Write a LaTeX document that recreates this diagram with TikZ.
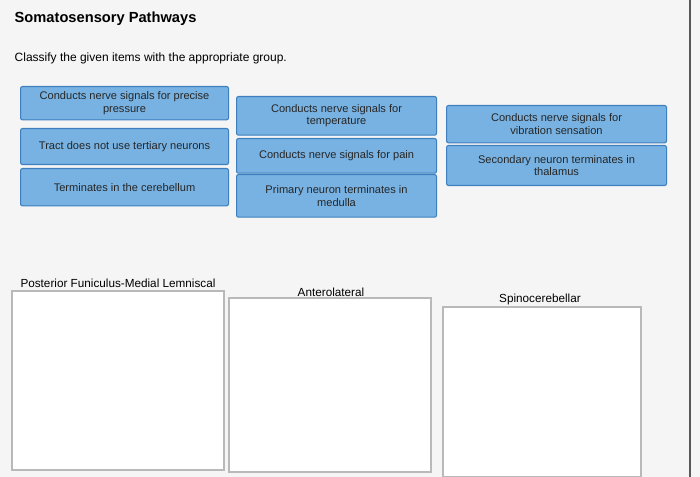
\documentclass[tikz,border=0pt]{standalone}
\usepackage{fontspec}
\setmainfont{Liberation Sans}
\definecolor{boxfill}{HTML}{78B2E2}
\definecolor{boxdraw}{HTML}{3F7FBF}
\begin{document}
\begin{tikzpicture}[x=0.75pt,y=-0.75pt,
  item/.style={draw=boxdraw,fill=boxfill,line width=0.8pt,rounded corners=1.5pt,align=center,font=\fontsize{8.3}{9.3}\selectfont,text=black!85,anchor=north west,inner sep=0pt},
  drop/.style={draw=gray!55,line width=0.8pt,fill=white},
  lab/.style={font=\fontsize{8.8}{10}\selectfont}]
\useasboundingbox[fill=gray!8] (0,0) rectangle (700,477);
\node[anchor=west,font=\bfseries\fontsize{11}{13}\selectfont] (title) at (10,19) {Somatosensory Pathways};
\node[anchor=west,font=\fontsize{9}{11}\selectfont] (instr) at (10,58) {Classify the given items with the appropriate group.};
\node[item,minimum width=156pt,minimum height=25pt] (a1) at (20,86) {Conducts nerve signals for precise\\pressure};
\node[item,minimum width=156pt,minimum height=27pt] (a2) at (20,128) {Tract does not use tertiary neurons};
\node[item,minimum width=156pt,minimum height=28pt] (a3) at (20,168) {Terminates in the cerebellum};
\node[item,minimum width=150pt,minimum height=29pt] (b1) at (236,96) {Conducts nerve signals for\\temperature};
\node[item,minimum width=150pt,minimum height=26pt] (b2) at (236,138) {Conducts nerve signals for pain};
\node[item,minimum width=150pt,minimum height=32pt] (b3) at (236,174) {Primary neuron terminates in\\medulla};
\node[item,minimum width=165pt,minimum height=28pt] (c1) at (446,105) {Conducts nerve signals for\\vibration sensation};
\node[item,minimum width=165pt,minimum height=30pt] (c2) at (446,145) {Secondary neuron terminates in\\thalamus};
\node[lab] (g1) at (118,283) {Posterior Funiculus-Medial Lemniscal};
\node[lab] (g2) at (331,292) {Anterolateral};
\node[lab] (g3) at (540,299) {Spinocerebellar};
\draw[drop] (12,291) rectangle (224,470);
\draw[drop] (229,298) rectangle (431,472);
\draw[drop] (443,307) rectangle (641,477);
\draw[line width=2pt,gray!70!black] (690,0) -- (690,477);
\end{tikzpicture}
\end{document}
